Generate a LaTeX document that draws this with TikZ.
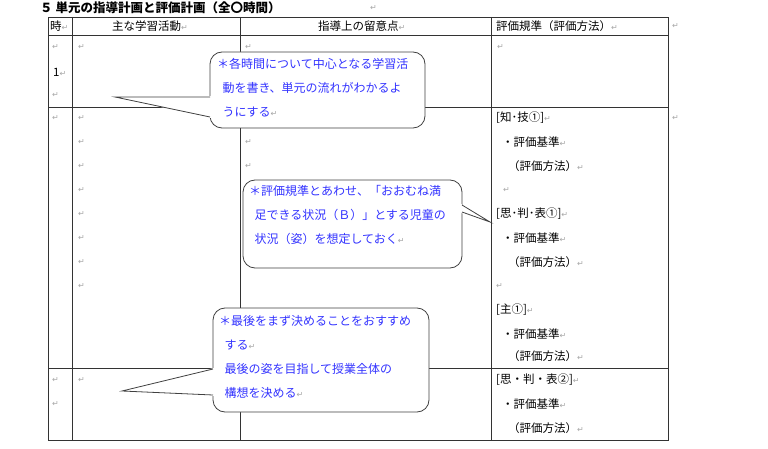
\documentclass[tikz,border=0pt]{standalone}
\usepackage{fontspec}
\setmainfont{Noto Sans CJK JP}
\newfontfamily\symfont{DejaVu Sans}

\tikzset{
  cell/.style={anchor=west, inner sep=0pt, font=\fontsize{11.5}{11.5}\selectfont},
  ret/.style={anchor=west, inner sep=0pt, text=gray!70, font=\symfont\fontsize{8}{8}\selectfont},
  callout/.style={draw=black!75, fill=white, rounded corners=12pt, line width=0.8pt},
  tail/.style={draw=black!75, line width=0.8pt},
  note/.style={anchor=north west, inner sep=0pt, text=blue!80!white, align=left,
    font=\fontsize{12}{24}\selectfont}
}
\newcommand{\rt}{{\symfont\textcolor{gray!70}{\fontsize{8}{8}\selectfont ↵}}}

\begin{document}
\begin{tikzpicture}[x=1pt, y=-1pt]
        \useasboundingbox (0,0) rectangle (768,449);

        % Title
        \node[anchor=west, inner sep=0pt, font=\bfseries\fontsize{12.5}{12.5}\selectfont] (title) at (40,8)
          {５\ 単元の指導計画と評価計画（全〇時間）};
        \node[ret] (titleret) at (370,8) {↵};

        % Table grid
        \draw[black!80, line width=0.6pt] (48,17) rectangle (668,440);
        \draw[black!80, line width=0.6pt] (48,35) -- (668,35);
        \draw[black!80, line width=0.6pt] (48,107) -- (668,107);
        \draw[black!80, line width=0.6pt] (48,368) -- (668,368);
        \foreach \cx in {72,240,491}
          \draw[black!80, line width=0.6pt] (\cx,17) -- (\cx,440);

        % Header
        \node[cell] (h1) at (50,26) {時\rt};
        \node[cell] (h2) at (112,26) {主な学習活動\rt};
        \node[cell] (h3) at (318,26) {指導上の留意点\rt};
        \node[cell] (h4) at (496,26) {評価規準（評価方法）\rt};
        \node[ret] (hend) at (672,26) {↵};

        % Return marks in the empty cells
        \foreach \ry in {47,95,118,380,404}
          \node[ret] at (52,\ry) {↵};
        \node[cell] (one) at (53,72) {1\rt};
        \foreach \ry in {47,118,142,166,190,214,238,262,286,380}
          \node[ret] at (78,\ry) {↵};
        \foreach \ry in {47,118,142,166}
          \node[ret] at (245,\ry) {↵};
        \node[ret] (r1ret) at (497,47) {↵};
        \node[ret] (r2end) at (672,118) {↵};

        % Evaluation criteria column
        \node[cell] (c1) at (496,118) {[知･技①]\rt};
        \node[cell] (c2) at (502,142) {・評価基準\rt};
        \node[cell] (c3) at (508,166) {（評価方法）\rt};
        \node[ret] (c4) at (503,190) {↵};
        \node[cell] (c5) at (496,214) {[思･判･表①]\rt};
        \node[cell] (c6) at (502,238) {・評価基準\rt};
        \node[cell] (c7) at (508,262) {（評価方法）\rt};
        \node[ret] (c8) at (496,286) {↵};
        \node[cell] (c9) at (496,310) {[主①]\rt};
        \node[cell] (c10) at (502,334) {・評価基準\rt};
        \node[cell] (c11) at (508,356) {（評価方法）\rt};
        \node[cell] (c12) at (496,380) {[思・判・表②]\rt};
        \node[cell] (c13) at (502,404) {・評価基準\rt};
        \node[cell] (c14) at (508,428) {（評価方法）\rt};

        % Callout 1
        \draw[callout] (210,52) rectangle (425,128);
        \fill[white] (210.8,96) -- (115,97) -- (210.8,118) -- cycle;
        \draw[tail] (210,97) -- (115,97) -- (210,117);
        \node[note] (note1) at (217,58) {＊各時間について中心となる学習活\\\ \ 動を書き、単元の流れがわかるよ\\\ \ うにする\rt};

        % Callout 2
        \draw[callout] (243,180) rectangle (462,268);
        \fill[white] (461.2,204) -- (490,222) -- (461.2,213) -- cycle;
        \draw[tail] (462,205) -- (490,222) -- (462,212);
        \node[note] (note2) at (249,185) {＊評価規準とあわせ、「おおむね満\\\ \ 足できる状況（Ｂ）」とする児童の\\\ \ 状況（姿）を想定しておく\rt};

        % Callout 3
        \draw[callout] (213,308) rectangle (429,412);
        \fill[white] (213.8,368) -- (122,391) -- (213.8,396) -- cycle;
        \draw[tail] (213,369) -- (122,391) -- (213,395);
        \node[note] (note3) at (219,315) {＊最後をまず決めることをおすすめ\\\ \ する\rt\\\ \ 最後の姿を目指して授業全体の\\\ \ 構想を決める\rt};
    \end{tikzpicture}
\end{document}
